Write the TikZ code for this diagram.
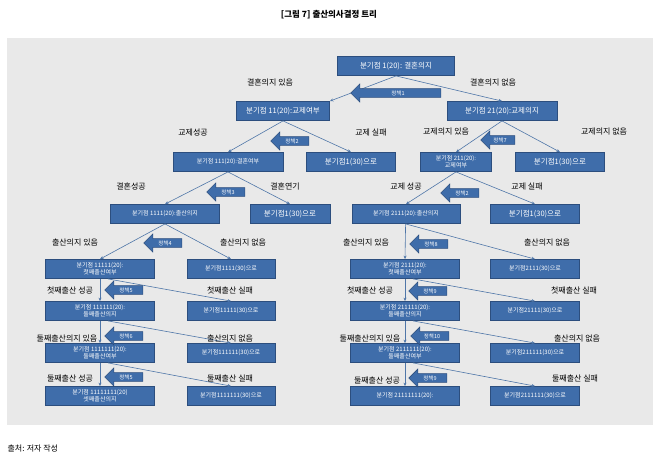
\documentclass[tikz,border=0pt]{standalone}
\usepackage{fontspec}
\setmainfont{Noto Sans CJK KR}
\usetikzlibrary{shapes.arrows,arrows.meta}
\definecolor{boxblue}{HTML}{3F6DAA}
\definecolor{boxedge}{HTML}{2C4E7E}
\definecolor{linec}{HTML}{4F76A8}
\definecolor{panel}{HTML}{E9E9E9}
\tikzset{
  bx/.style={draw=boxedge,line width=0.8pt,fill=boxblue,text=white,font=\fontsize{7.5}{8.5}\selectfont,minimum height=19pt,inner sep=1pt,align=center},
  bxs/.style={bx,font=\fontsize{6}{6.6}\selectfont},
  lab/.style={font=\fontsize{8}{9.5}\selectfont,text=black},
  pol/.style={single arrow,shape border rotate=180,draw=boxedge,line width=0.6pt,fill=boxblue,text=white,font=\fontsize{5.5}{6}\selectfont,minimum height=38pt,minimum width=18pt,single arrow head extend=4pt,inner sep=1pt},
  ed/.style={draw=linec,line width=0.6pt,-{Stealth[length=3.5pt,width=3pt]}}
}
\begin{document}
\begin{tikzpicture}[x=1pt,y=-1pt]
\useasboundingbox (0,0) rectangle (658,464);
\fill[white] (0,0) rectangle (658,464);
\node[font=\fontsize{8.5}{10}\selectfont\bfseries] (title) at (329,15) {[그림 7] 출산의사결정 트리};
\fill[panel] (7,38) rectangle (653,425);
\node[font=\fontsize{8}{9}\selectfont,anchor=west] (src) at (4,448) {출처: 저자 작성};
% top levels
\node[bx,minimum width=117pt] (n1) at (396,66) {분기점 1(20): 결혼의지};
\node[bx,minimum width=93pt] (n11) at (283,111) {분기점 11(20):교제여부};
\node[bx,minimum width=110pt] (n21) at (502,111) {분기점 21(20):교제의지};
\node[bxs,minimum width=110pt] (n111) at (228,162) {분기점 111(20):결혼여부};
\node[bx,minimum width=89pt] (n11f) at (351,162) {분기점1(30)으로};
\node[bxs,minimum width=71pt] (n211) at (456,162) {분기점 211(20):\\교제여부};
\node[bx,minimum width=89pt] (n21f) at (560,162) {분기점1(30)으로};
\node[bxs,minimum width=109pt] (n1111) at (165,214) {분기점 1111(20):출산의지};
\node[bx,minimum width=80pt] (n111f) at (290,214) {분기점1(30)으로};
\node[bxs,minimum width=108pt] (n2111) at (406,214) {분기점 2111(20):출산의지};
\node[bx,minimum width=89pt] (n211f) at (535,214) {분기점1(30)으로};
% left column
\node[bxs,minimum width=109pt] (l1) at (100,269) {분기점 11111(20):\\첫째출산여부};
\node[bxs,minimum width=109pt] (l2) at (100,311) {분기점 111111(20):\\둘째출산의지};
\node[bxs,minimum width=109pt] (l3) at (100,353) {분기점 1111111(20):\\둘째출산여부};
\node[bxs,minimum width=109pt] (l4) at (100,396) {분기점 11111111(20)\\셋째출산의지};
\node[bxs,minimum width=88pt] (lf1) at (231,269) {분기점1111(30)으로};
\node[bxs,minimum width=88pt] (lf2) at (231,311) {분기점11111(30)으로};
\node[bxs,minimum width=88pt] (lf3) at (231,353) {분기점111111(30)으로};
\node[bxs,minimum width=88pt] (lf4) at (231,396) {분기점1111111(30)으로};
% right column
\node[bxs,minimum width=109pt] (r1) at (405,269) {분기점 2111(20):\\첫째출산여부};
\node[bxs,minimum width=109pt] (r2) at (405,311) {분기점 211111(20):\\둘째출산의지};
\node[bxs,minimum width=109pt] (r3) at (405,353) {분기점 2111111(20):\\둘째출산여부};
\node[bxs,minimum width=109pt] (r4) at (405,396) {분기점 21111111(20):};
\node[bxs,minimum width=89pt] (rf1) at (535,269) {분기점2111(30)으로};
\node[bxs,minimum width=89pt] (rf2) at (535,311) {분기점21111(30)으로};
\node[bxs,minimum width=89pt] (rf3) at (535,353) {분기점211111(30)으로};
\node[bxs,minimum width=89pt] (rf4) at (535,396) {분기점2111111(30)으로};
% edges
\draw[ed] (n1.south) -- (n11.north east);
\draw[ed] (n1.south) -- (n21.north);
\draw[ed] (n11.south) -- (n111.north);
\draw[ed] (n11.south) -- (n11f.north);
\draw[ed] (n21.south) -- (n211.north);
\draw[ed] (n21.south) -- (n21f.north);
\draw[ed] (n111.south) -- (n1111.north);
\draw[ed] (n111.south) -- (n111f.north);
\draw[ed] (n211.south) -- (n2111.north);
\draw[ed] (n211.south) -- (n211f.north);
\draw[ed] (n1111.south) -- (l1.north);
\draw[ed] (n1111.south) -- (lf1.north);
\draw[ed] (n2111.south west) ++(54pt,0) coordinate (c0) -- (r1.north);
\draw[ed] (c0) -- (rf1.north);
\foreach \a/\b/\c in {l1/l2/lf2,l2/l3/lf3,l3/l4/lf4,r1/r2/rf2,r2/r3/rf3,r3/r4/rf4}{
  \draw[ed] (\a.south) -- (\b.north);
  \draw[ed] ([xshift=8pt]\a.south) -- (\c.north);
}
% labels
\node[lab] (t1) at (270,82) {결혼의지 있음};
\node[lab] (t2) at (493,82) {결혼의지 없음};
\node[lab] (t3) at (193,132) {교제성공};
\node[lab] (t4) at (371,132) {교제 실패};
\node[lab] (t5) at (446,132) {교제의지 있음};
\node[lab] (t6) at (604,132) {교제의지 없음};
\node[lab] (t7) at (131,186) {결혼성공};
\node[lab] (t8) at (285,186) {결혼연기};
\node[lab] (t9) at (406,186) {교제 성공};
\node[lab] (t10) at (527,186) {교제 실패};
\node[lab] (t11) at (75,242) {출산의지 있음};
\node[lab] (t12) at (243,242) {출산의지 없음};
\node[lab] (t13) at (366,242) {출산의지 있음};
\node[lab] (t14) at (547,242) {출산의지 없음};
\node[lab] (t15) at (70,290) {첫째출산 성공};
\node[lab] (t16) at (230,290) {첫째출산 실패};
\node[lab] (t17) at (370,290) {첫째출산 성공};
\node[lab] (t18) at (574,290) {첫째출산 실패};
\node[lab] (t19) at (67,338) {둘째출산의지 있음};
\node[lab] (t20) at (230,338) {출산의지 없음};
\node[lab] (t21) at (370,338) {둘째출산의지 있음};
\node[lab] (t22) at (577,338) {출산의지 없음};
\node[lab] (t23) at (70,378) {둘째출산 성공};
\node[lab] (t24) at (230,378) {둘째출산 실패};
\node[lab] (t25) at (377,380) {둘째출산 성공};
\node[lab] (t26) at (575,378) {둘째출산 실패};
% policy arrows
\node[pol,minimum height=90pt] (p1) at (398,93) {정책1};
\node[pol] (p2) at (292,141) {정책2};
\node[pol,minimum height=34pt] (p7) at (500,140) {정책7};
\node[pol] (p3) at (228,192) {정책3};
\node[pol] (p2b) at (462,193) {정책2};
\node[pol] (p4) at (165,243) {정책4};
\node[pol] (p8) at (431,244) {정책8};
\node[pol] (p5) at (126,290) {정책5};
\node[pol] (p9) at (430,291) {정책9};
\node[pol] (p6) at (126,336) {정책6};
\node[pol] (p10) at (432,336) {정책10};
\node[pol] (p5b) at (126,377) {정책5};
\node[pol] (p9b) at (430,378) {정책9};
\end{tikzpicture}
\end{document}
